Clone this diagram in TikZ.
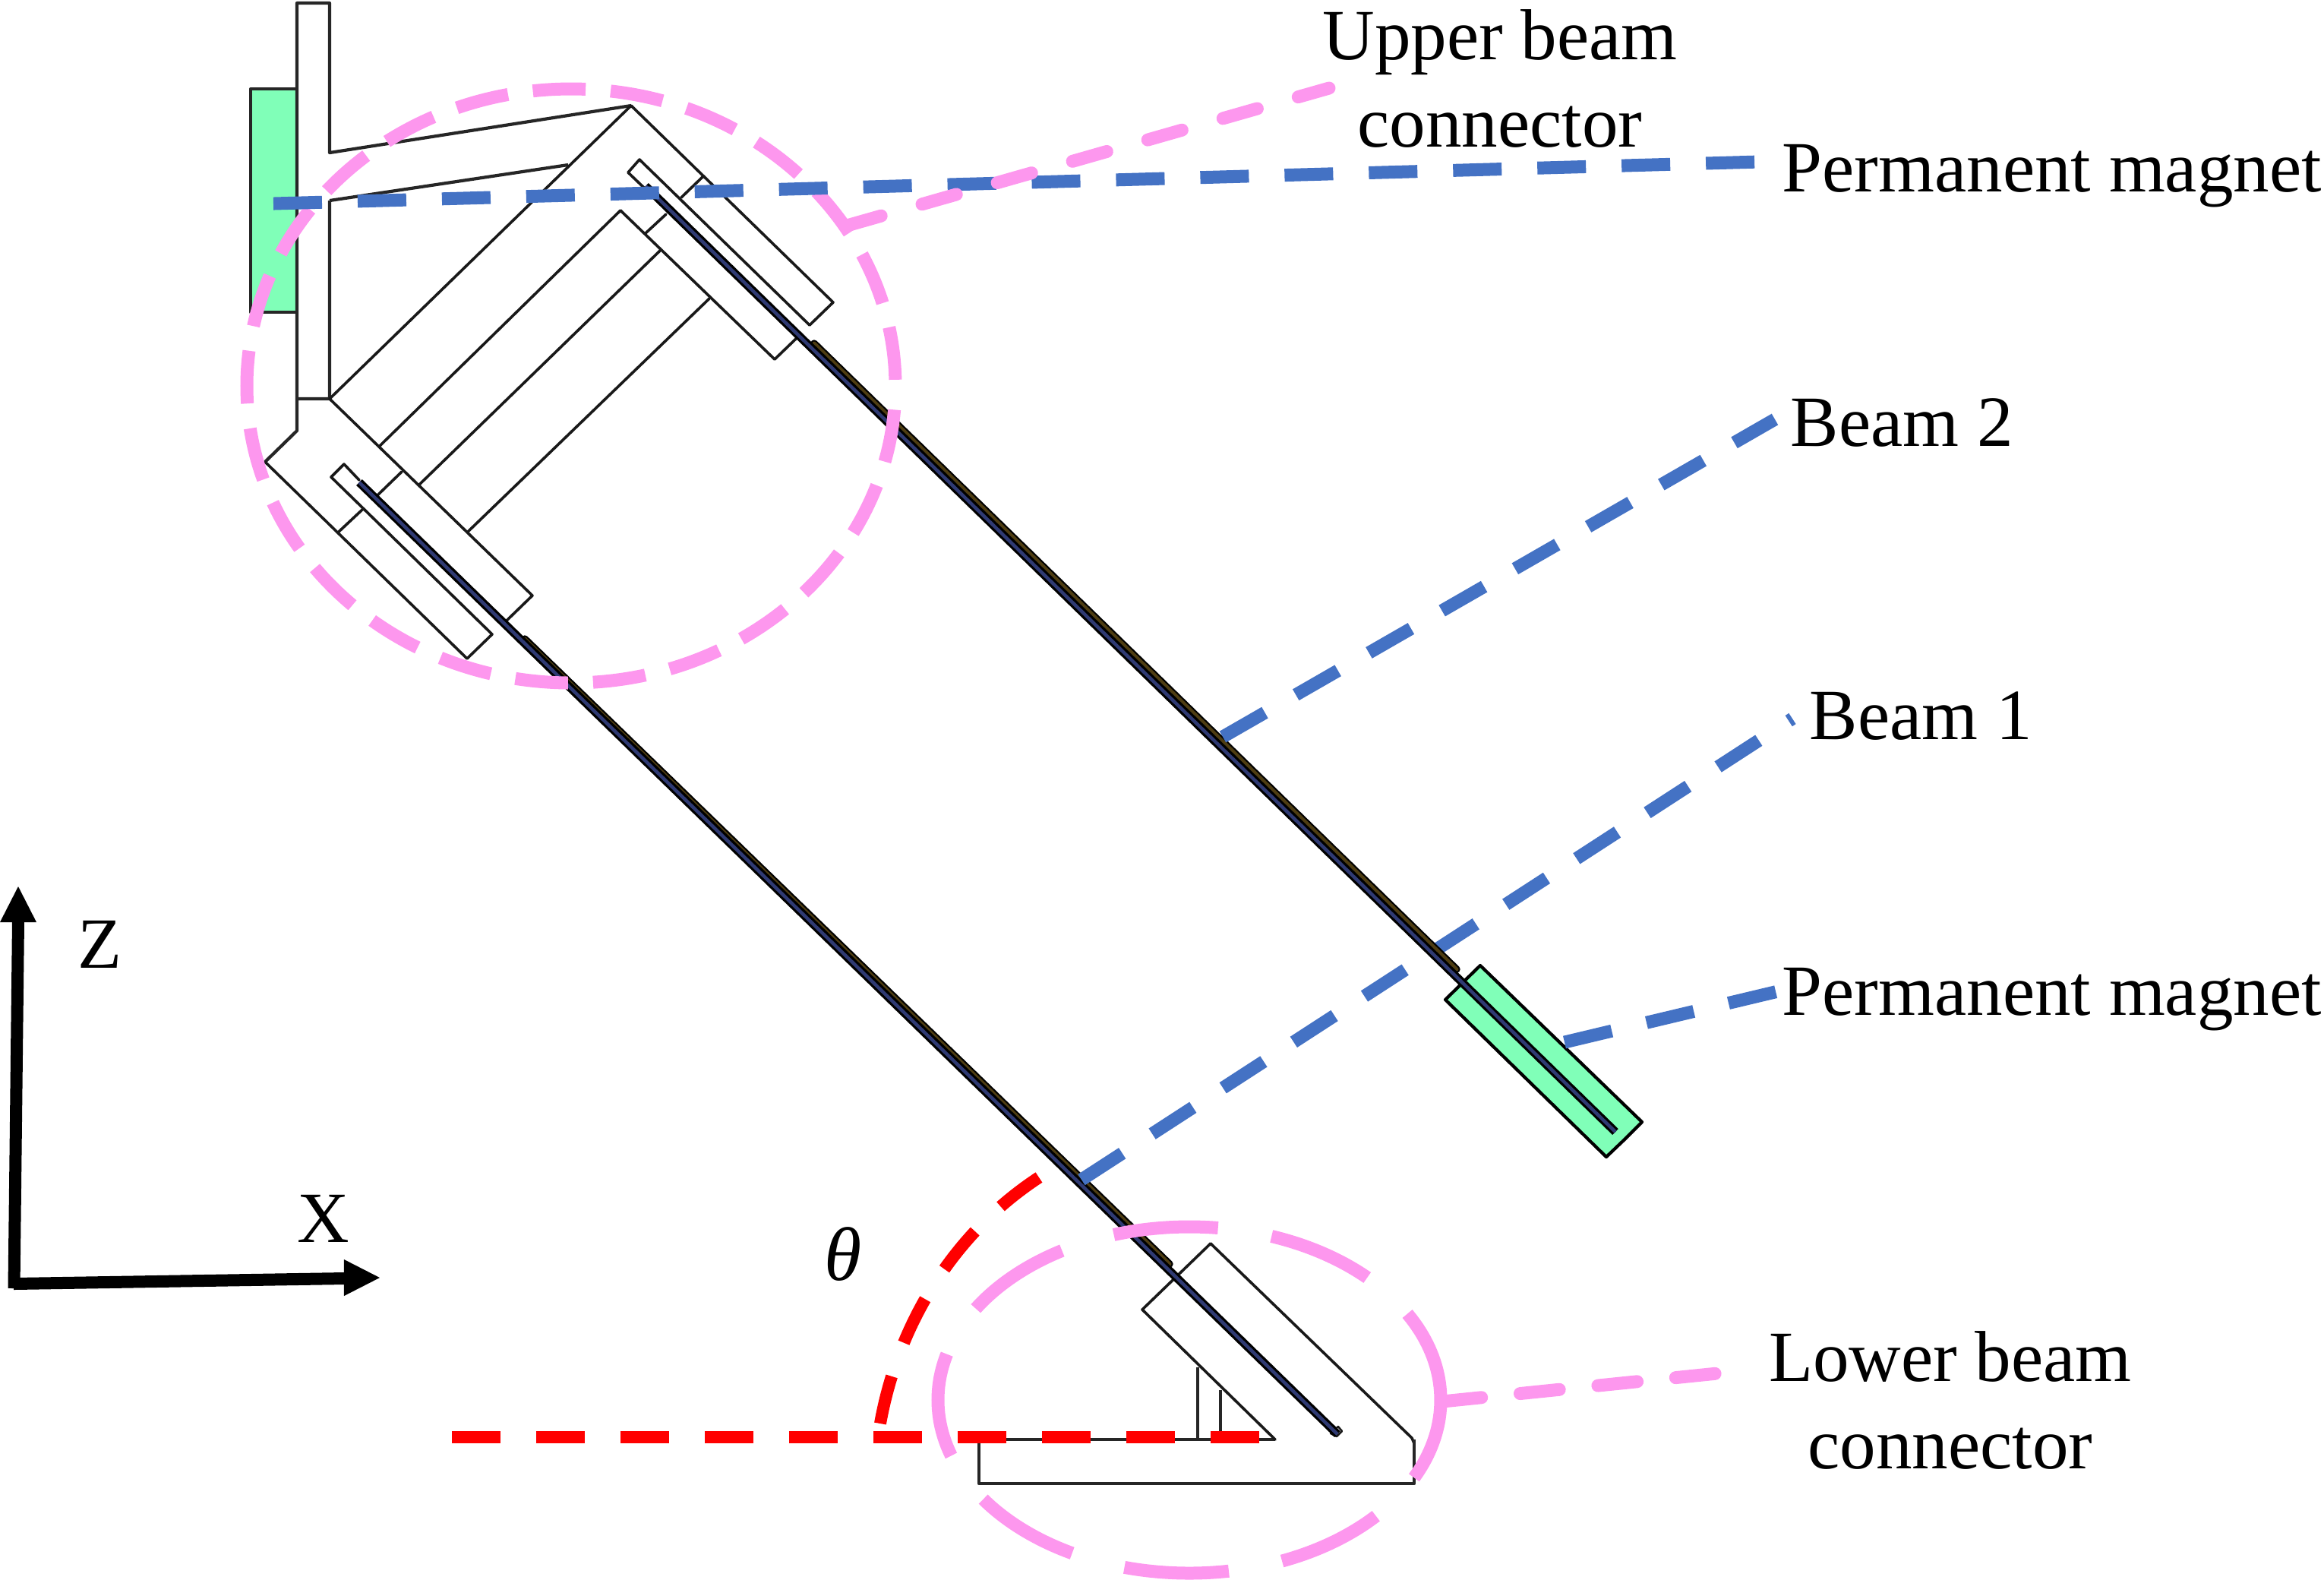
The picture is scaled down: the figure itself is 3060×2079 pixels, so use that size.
\documentclass[tikz,border=0pt]{standalone}
\usepackage{fontspec}
\setmainfont{Liberation Serif}
\definecolor{pinkc}{HTML}{FD97EE}
\definecolor{bluec}{HTML}{4472C4}
\definecolor{greenc}{HTML}{80FFB8}
\definecolor{navyc}{HTML}{2F3A73}
\definecolor{brownc}{HTML}{4E3D12}
\tikzset{
  part/.style={draw=black!90,line width=.36pt,line join=round,line cap=round},
  post/.style={draw=black!85,line width=.42pt,line join=round},
  mag/.style={draw=black,fill=greenc,line width=.42pt,line join=round},
  bluedash/.style={draw=bluec,line width=1.7pt,dash pattern=on 6.4pt off 4.7pt},
  reddash/.style={draw=red,line width=1.6pt,dash pattern=on 6.4pt off 4.7pt},
  pinkleader/.style={draw=pinkc,line width=1.7pt,line cap=round,dash pattern=on 4.7pt off 5.6pt},
  lbl/.style={inner sep=0pt,font=\fontsize{9.5pt}{11pt}\selectfont},
  axis/.style={draw=black,line width=1.6pt}
}
\newcommand{\beamline}[2]{%
  \draw[black,line width=1.1pt] #1 -- #2;
  \draw[navyc,line width=.45pt] #1 -- #2;}
\newcommand{\layerline}[2]{%
  \draw[black,line width=.95pt,line cap=round] #1 -- #2;
  \draw[brownc,line width=.5pt,line cap=round] #1 -- #2;}
\begin{document}
\begin{tikzpicture}[x=0.1pt,y=-0.1pt]
\useasboundingbox (0,0) rectangle (3060,2079);
% ---- upper bracket
\draw[mag,draw=black!85] (330,117) rectangle (391,411);
\draw[post] (391,525) -- (391,4) -- (434,4) -- (434,201) -- (831,139);
\draw[post] (434,264) -- (748,217);
\draw[post] (434,264) -- (434,525) -- (391,525) -- (391,567) -- (349,608);
\draw[part] (434,525) -- (831,139) -- (1097,398) -- (1066,428) -- (842,210) -- (827,227) -- (851,250);
\draw[part] (926,232) -- (897,260);
\draw[part] (877,282) -- (850,307);
\draw[part] (817,277) -- (1020,473) -- (1049,445);
\draw[part] (500,587) -- (817,277);
\draw[part] (552,638) -- (869,330);
\draw[part] (616,700) -- (934,393);
% ---- lower clamp of the upper bracket
\draw[part] (349,608) -- (615,867) -- (648,835) -- (436,628) -- (453,611) -- (473,632);
\draw[part] (446,700) -- (478,670);
\draw[part] (434,525) -- (701,784) -- (667,817);
\draw[part] (497,652) -- (529,621);
% ---- lower connector
\draw[part] (1594,1637) -- (1859,1893) -- (1862,1900);
\draw[post] (1862,1895) -- (1862,1953) -- (1289,1953) -- (1289,1895);
\draw[post] (1289,1895) -- (1679,1895);
\draw[part] (1679,1895) -- (1504,1724) -- (1594,1637);
\draw[post,line width=.35pt] (1577,1800) -- (1577,1895);
\draw[post,line width=.35pt] (1607,1830) -- (1607,1895);
\draw[part,line width=.25pt] (1752,1887) -- (1762,1878) -- (1767,1884) -- (1760,1891) -- cycle;
% ---- beam 1
\layerline{(691,841)}{(1540,1664)}
\beamline{(473,635)}{(1761,1888)}
% ---- leader beam 1
\coordinate (b1s) at (1424,1553);
\coordinate (b1e) at (2360,946);
\draw[bluedash] (b1s) -- (b1e);
% ---- magnet on beam 2
\draw[mag] (1949,1271) -- (2162,1477) -- (2137,1502) -- (2115,1523) -- (1903,1316) -- cycle;
% ---- beam 2
\layerline{(1072,452)}{(1918,1276)}
\beamline{(850,245)}{(2127,1490)}
% ---- ellipses
\draw[pinkc,line width=1.7pt,dash pattern=on 6.96pt off 3.3pt,dash phase=7.12pt] (752,508) ellipse [x radius=427,y radius=391];
\draw[pinkc,line width=1.7pt,dash pattern=on 13.8pt off 7.14pt,dash phase=2.8pt] (1566,1843) ellipse [x radius=331,y radius=228];
% ---- red angle
\draw[reddash] (595,1892) -- (1662,1892);
\draw[reddash] (1159,1874) .. controls (1183,1740) and (1258,1622) .. (1368,1550);
% ---- labels
\node[lbl,anchor=base] (ub1) at (1975,78) {Upper beam};
\node[lbl,anchor=base] (ub2) at (1975,193) {connector};
\node[lbl,anchor=base west] (pm1) at (2345,252) {Permanent magnet};
\node[lbl,anchor=base west] (b2) at (2356,587) {Beam 2};
\node[lbl,anchor=base west] (b1) at (2381,973) {Beam 1};
\node[lbl,anchor=base west] (pm2) at (2345,1336) {Permanent magnet};
\node[lbl,anchor=base] (lb1) at (2568,1818) {Lower beam};
\node[lbl,anchor=base] (lb2) at (2568,1933) {connector};
\node[lbl,anchor=base west] (zl) at (100,1274) {Z};
\node[lbl,anchor=base west] (xl) at (390,1635) {X};
\node[lbl,font=\fontsize{10pt}{11pt}\selectfont\itshape] (thl) at (1110,1651) {θ};
% ---- leaders
\coordinate (pm1a) at (360,268);
\coordinate (pm1b) at (2316,213);
\draw[bluedash] (pm1a) -- (pm1b);
\coordinate (b2a) at (1610,970);
\coordinate (b2b) at (2337,552);
\draw[bluedash] (b2a) -- (b2b);
\coordinate (pm2a) at (2060,1372);
\coordinate (pm2b) at (2341,1305);
\draw[bluedash] (pm2a) -- (pm2b);
\coordinate (ubs) at (1115,297);
\coordinate (ube) at (1750,116);
\draw[pinkleader] (ubs) -- (ube);
\coordinate (lbs) at (1899,1845);
\coordinate (lbe) at (2261,1808);
\draw[draw=pinkc,line width=1.7pt,line cap=round,dash pattern=on 5.2pt off 5.1pt] (lbs) -- (lbe);
% ---- axes
\coordinate (org) at (18,1690);
\coordinate (ztip) at (24,1214);
\coordinate (xtip) at (453,1683);
\draw[axis] (18.5,1696) -- (ztip);
\draw[axis] (org) -- (xtip);
\fill[black] (24,1167) -- (48,1214) -- (0,1214) -- cycle;
\fill[black] (500,1682) -- (453,1658) -- (453,1706) -- cycle;
\end{tikzpicture}
\end{document}
